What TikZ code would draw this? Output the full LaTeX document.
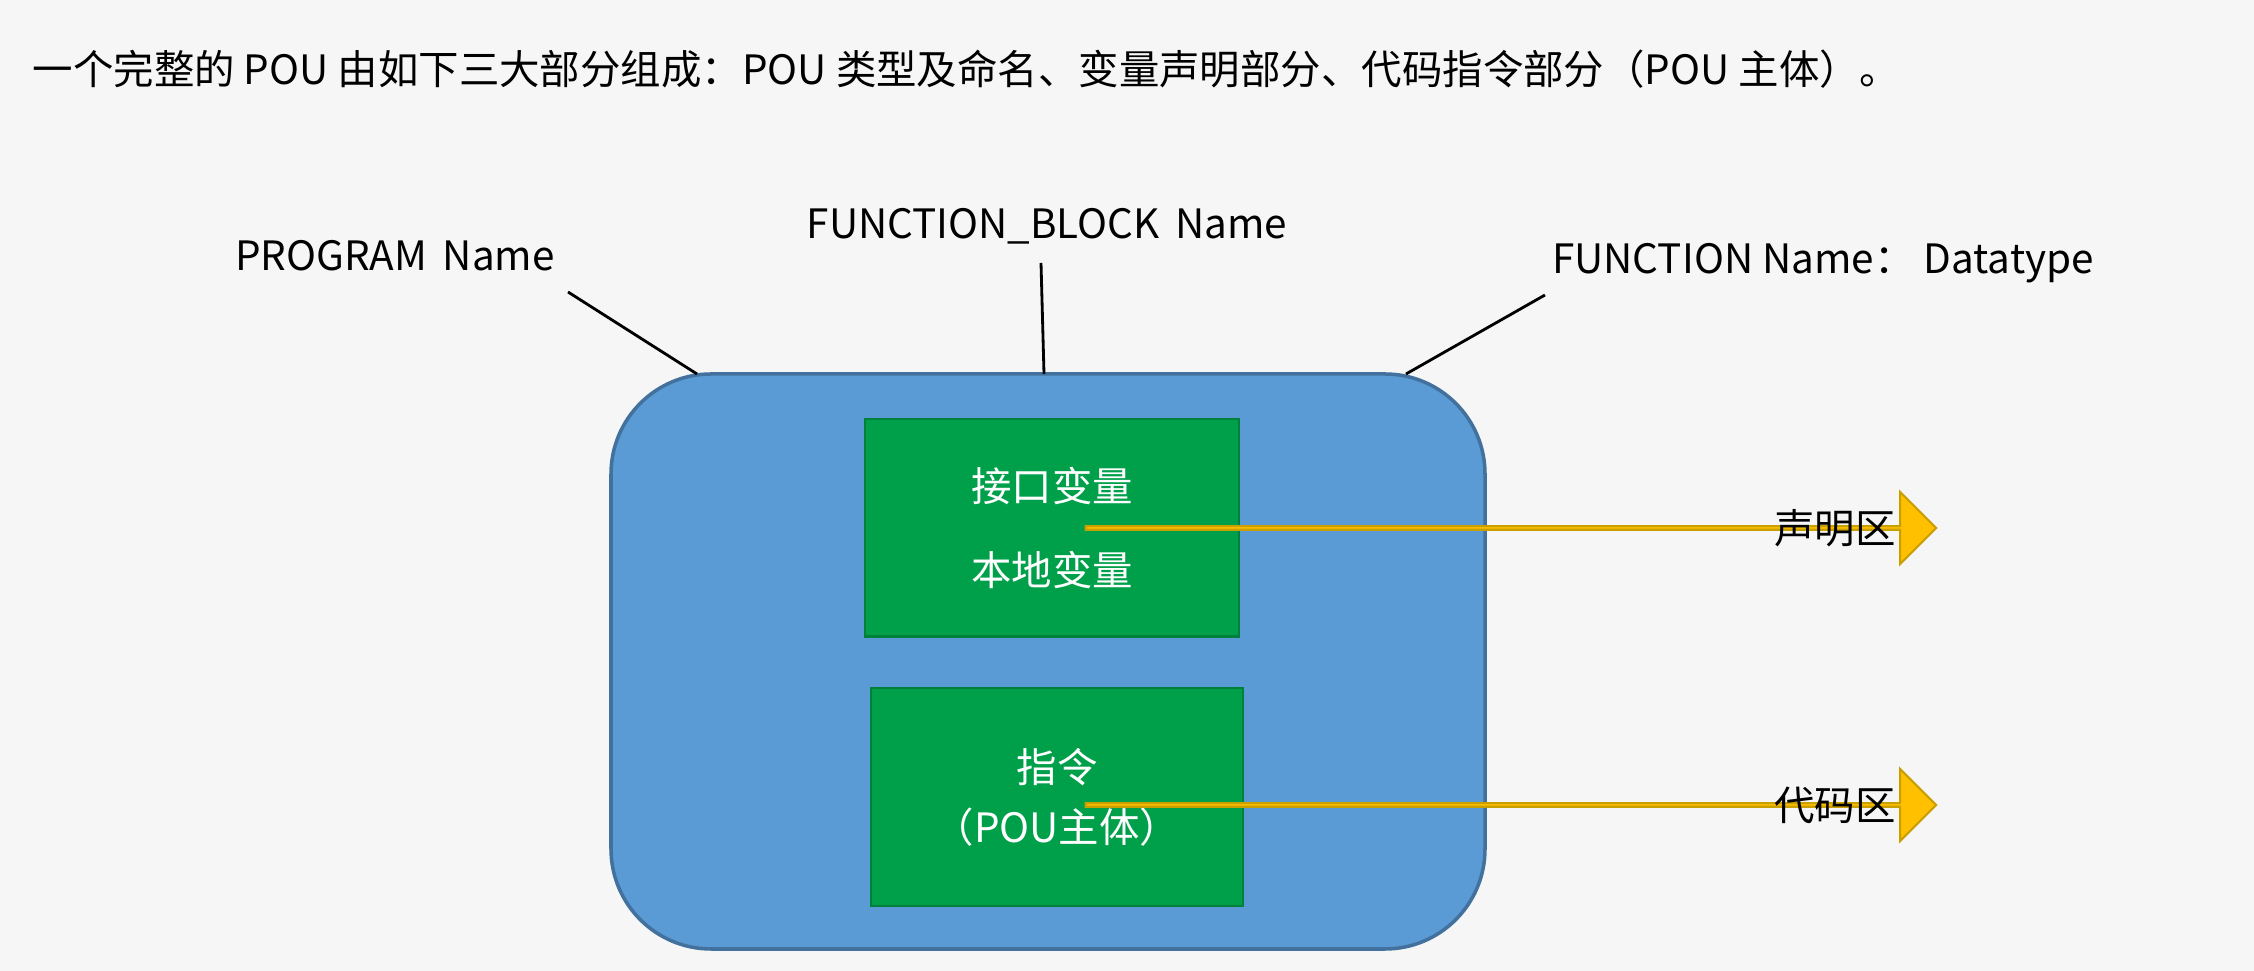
\documentclass[tikz,border=0pt]{standalone}
\usepackage{fontspec}
\setmainfont{Noto Sans CJK SC}
\usetikzlibrary{shapes.arrows}
\definecolor{bg}{HTML}{F6F6F6}
\definecolor{pblue}{HTML}{5B9BD5}
\definecolor{pblueb}{HTML}{41719C}
\definecolor{pgreen}{HTML}{00A04A}
\definecolor{porange}{HTML}{FFC000}
\definecolor{porangeb}{HTML}{C9A000}
\begin{document}
\begin{tikzpicture}[x=0.01cm,y=-0.01cm,
  txt/.style={font=\fontsize{11.5pt}{14pt}\selectfont,inner sep=0pt},
  gbox/.style={fill=pgreen,draw=pgreen!80!black,line width=0.6pt,text=white,font=\fontsize{11.5pt}{24pt}\selectfont,align=center},
  arr/.style={single arrow,fill=porange,draw=porangeb,line width=0.6pt,minimum height=403\pgflinewidth,single arrow head extend=0.2cm,minimum width=0.72cm,inner sep=0pt,text width=3.3cm},
  lead/.style={line width=0.8pt,black}]
\fill[bg] (0,0) rectangle (2254,971);
\useasboundingbox (0,0) rectangle (2254,971);
\node[txt,anchor=west] (title) at (32,69) {一个完整的 POU 由如下三大部分组成：POU 类型及命名、变量声明部分、代码指令部分（POU 主体）。};
\draw[fill=pblue,draw=pblueb,line width=1pt,rounded corners=1cm] (611,374) rectangle (1485,949);
\node[gbox,minimum width=3.74cm,minimum height=2.17cm] (decl) at (1052,528) {接口变量\\本地变量};
\node[gbox,minimum width=3.72cm,minimum height=2.17cm,font=\fontsize{11.5pt}{17pt}\selectfont] (code) at (1057,797) {指令\\（POU主体）};
\node[arr] (a1) at (1510,528) {};
\node[arr] (a2) at (1510,805) {};
\node[txt] (l1) at (1835,528) {声明区};
\node[txt] (l2) at (1835,805) {代码区};
\node[txt] (pn) at (395,256) {PROGRAM\, Name};
\node[txt] (fb) at (1047,226) {FUNCTION\_BLOCK\, Name};
\node[txt] (fn) at (1823,263) {FUNCTION Name： Datatype};
\coordinate (c1) at (697,374);
\coordinate (c2) at (1044,374);
\coordinate (c3) at (1406,374);
\coordinate (s1) at (568,292);
\coordinate (s2) at (1041,263);
\coordinate (s3) at (1545,295);
\draw[lead] (s1) -- (c1);
\draw[lead] (s2) -- (c2);
\draw[lead] (s3) -- (c3);
\end{tikzpicture}
\end{document}
